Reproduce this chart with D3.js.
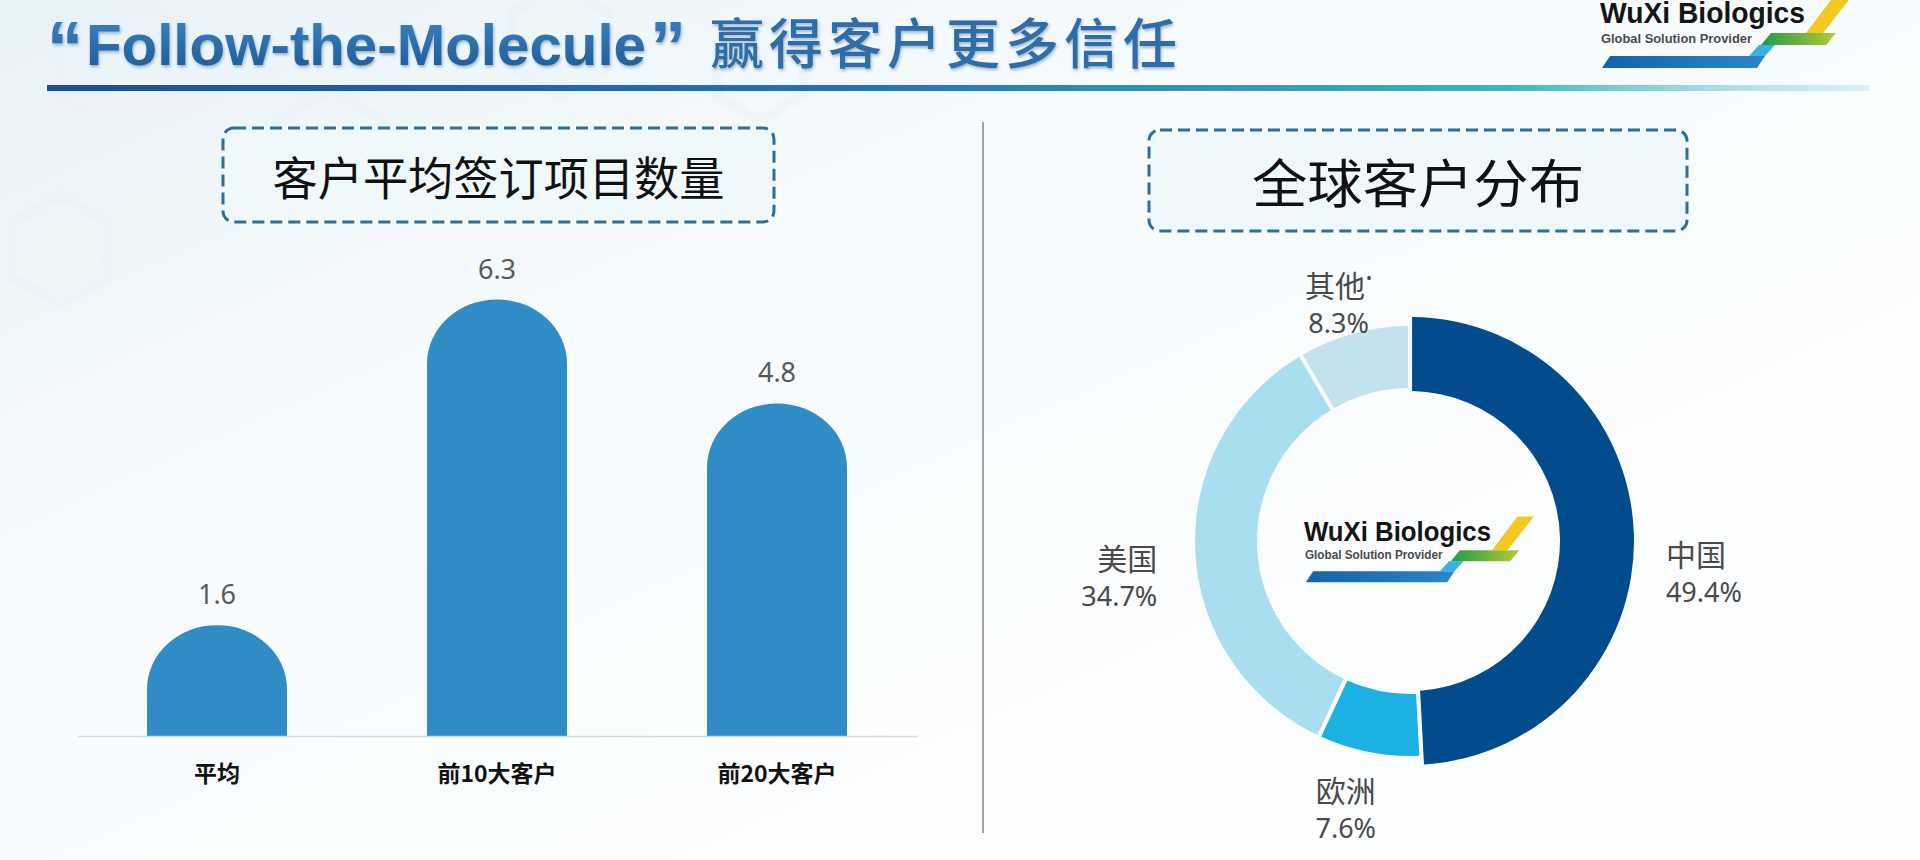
<!DOCTYPE html>
<html>
<head>
<meta charset="utf-8">
<script src="https://cdn.jsdelivr.net/npm/d3@7/dist/d3.min.js"></script>
<style>
  html, body { margin: 0; padding: 0; background: #ffffff; }
  svg { display: block; }
</style>
</head>
<body>
<svg id="chart" width="1920" height="860"></svg>
<script>
// ---------- data ----------
const titleEnglish = "Follow-the-Molecule";
const titleChinese = "赢得客户更多信任";
const leftPanelTitle = "客户平均签订项目数量";
const rightPanelTitle = "全球客户分布";

const categories = ["平均", "前10大客户", "前20大客户"];
const projectCounts = [1.6, 6.3, 4.8];

const regions = ["中国", "欧洲", "美国", "其他"];
const regionShares = [49.4, 7.6, 34.7, 8.3];
const regionColors = ["#024b8c", "#1cb1e2", "#a8def0", "#c4e1ee"];

const logoName = "WuXi Biologics";
const logoTagline = "Global Solution Provider";

// ---------- setup ----------
const svg = d3.select("#chart");
const defs = svg.append("defs");
const CJK = "'Noto Sans CJK SC', 'Noto Sans', sans-serif";
const LAT = "'Liberation Sans', Arial, sans-serif";
const NUM = "'Noto Sans', 'DejaVu Sans', sans-serif";

// background
const bg = defs.append("linearGradient").attr("id", "bgGrad")
  .attr("x1", "0").attr("y1", "0").attr("x2", "1").attr("y2", "1");
bg.append("stop").attr("offset", "0").attr("stop-color", "#e7f2f8");
bg.append("stop").attr("offset", "0.35").attr("stop-color", "#f7fbfd");
bg.append("stop").attr("offset", "1").attr("stop-color", "#ffffff");
svg.append("rect").attr("width", 1920).attr("height", 860).attr("fill", "url(#bgGrad)");

// faint molecule hexagons in background
const hexes = [[120, 60, 70], [330, 150, 60], [560, 40, 55], [760, 70, 50], [60, 250, 55]];
const hexPath = (cx, cy, r) => {
  const pts = d3.range(6).map(i => {
    const a = Math.PI / 3 * i + Math.PI / 6;
    return [cx + r * Math.cos(a), cy + r * Math.sin(a)];
  });
  return "M" + pts.join("L") + "Z";
};
svg.append("g").selectAll("path").data(hexes).join("path")
  .attr("d", d => hexPath(d[0], d[1], d[2]))
  .attr("fill", "none").attr("stroke", "#e6f1f7").attr("stroke-width", 10).attr("opacity", 0.45);

// ---------- title ----------
const tg = defs.append("linearGradient").attr("id", "titleGrad")
  .attr("x1", "0").attr("y1", "0").attr("x2", "0").attr("y2", "1");
tg.append("stop").attr("offset", "0").attr("stop-color", "#3d84c4");
tg.append("stop").attr("offset", "1").attr("stop-color", "#1b5894");

const shadow = defs.append("filter").attr("id", "tshadow")
  .attr("x", "-5%").attr("y", "-20%").attr("width", "110%").attr("height", "150%");
shadow.append("feDropShadow").attr("dx", 1).attr("dy", 2).attr("stdDeviation", 1.5)
  .attr("flood-color", "#0d3a66").attr("flood-opacity", 0.35);

const titleG = svg.append("g").attr("font-family", LAT).attr("font-weight", "bold")
  .attr("font-size", 58).attr("fill", "url(#titleGrad)").attr("filter", "url(#tshadow)");
titleG.append("text").attr("x", 47).attr("y", 72).attr("font-size", 72).text("“");
titleG.append("text").attr("x", 86).attr("y", 65)
  .attr("textLength", 560).attr("lengthAdjust", "spacingAndGlyphs").text(titleEnglish);
titleG.append("text").attr("x", 650).attr("y", 72).attr("font-size", 72).text("”");

svg.append("text").attr("x", 710).attr("y", 64)
  .attr("font-family", CJK).attr("font-weight", 500).attr("font-size", 54)
  .attr("letter-spacing", 5)
  .attr("fill", "#2d6da7").attr("filter", "url(#tshadow)")
  .text(titleChinese);

// underline bar
const ug = defs.append("linearGradient").attr("id", "underGrad")
  .attr("x1", "0").attr("y1", "0").attr("x2", "1").attr("y2", "0");
ug.append("stop").attr("offset", "0").attr("stop-color", "#1b4f98");
ug.append("stop").attr("offset", "0.45").attr("stop-color", "#2474b8");
ug.append("stop").attr("offset", "0.8").attr("stop-color", "#3cb4c6");
ug.append("stop").attr("offset", "1").attr("stop-color", "#8fd6dc").attr("stop-opacity", 0.3);
svg.append("rect").attr("x", 47).attr("y", 85).attr("width", 1822).attr("height", 6)
  .attr("fill", "url(#underGrad)");

// ---------- logo ----------
const blueG = defs.append("linearGradient").attr("id", "logoBlue")
  .attr("x1", "0").attr("y1", "0").attr("x2", "1").attr("y2", "0");
blueG.append("stop").attr("offset", "0").attr("stop-color", "#1462ad");
blueG.append("stop").attr("offset", "1").attr("stop-color", "#2a86c8");
const greenG = defs.append("linearGradient").attr("id", "logoGreen")
  .attr("x1", "0").attr("y1", "0").attr("x2", "1").attr("y2", "0");
greenG.append("stop").attr("offset", "0").attr("stop-color", "#219a4a");
greenG.append("stop").attr("offset", "1").attr("stop-color", "#b4c935");

function drawLogo(x, y, s) {
  const g = svg.append("g").attr("transform", `translate(${x},${y}) scale(${s})`);
  g.append("polygon").attr("points", "2,65 157,65 165,53 10,53").attr("fill", "url(#logoBlue)");
  g.append("polygon").attr("points", "149,53 165,53 175,42 159,42").attr("fill", "#38b2e2");
  g.append("polygon").attr("points", "161,42 226,42 236,30 171,30").attr("fill", "url(#logoGreen)");
  g.append("polygon").attr("points", "206,30 223,30 252,-7 234,-7").attr("fill", "#f1c91f");
  g.append("text").attr("x", 0).attr("y", 20)
    .attr("font-family", LAT).attr("font-weight", "bold").attr("font-size", 30)
    .attr("textLength", 205).attr("lengthAdjust", "spacingAndGlyphs")
    .attr("fill", "#151515").text(logoName);
  g.append("text").attr("x", 1).attr("y", 40)
    .attr("font-family", LAT).attr("font-weight", "bold").attr("font-size", 13)
    .attr("textLength", 151).attr("lengthAdjust", "spacingAndGlyphs")
    .attr("fill", "#4a4a4a").text(logoTagline);
}
drawLogo(1600, 3, 1);

// ---------- panel title boxes ----------
function panelBox(x, y, w, h, label, fs, len) {
  svg.append("rect").attr("x", x).attr("y", y).attr("width", w).attr("height", h)
    .attr("rx", 11).attr("ry", 11)
    .attr("fill", "#eff8fb").attr("stroke", "#2f6e9c").attr("stroke-width", 3)
    .attr("stroke-dasharray", "12 6");
  svg.append("text").attr("x", x + w / 2).attr("y", y + h / 2)
    .attr("text-anchor", "middle").attr("dominant-baseline", "central")
    .attr("font-family", CJK).attr("font-size", fs).attr("fill", "#111")
    .attr("textLength", len).attr("lengthAdjust", "spacingAndGlyphs")
    .text(label);
}
panelBox(223, 128, 551, 94, leftPanelTitle, 46, 452);
panelBox(1149, 130, 538, 101, rightPanelTitle, 52, 332);

// divider
svg.append("line").attr("x1", 983).attr("x2", 983).attr("y1", 122).attr("y2", 833)
  .attr("stroke", "#a3a3a3").attr("stroke-width", 2);

// ---------- bar chart ----------
const x = d3.scaleBand().domain(categories).range([77, 917])
  .paddingInner(0.5).paddingOuter(0.25);
const y = d3.scaleLinear().domain([0, 7]).range([736, 251]);

const bars = categories.map((c, i) => ({ c, v: projectCounts[i] }));
const bw = x.bandwidth();
const rx = bw / 2;
svg.append("g").selectAll("path").data(bars).join("path")
  .attr("d", d => {
    const x0 = x(d.c), x1 = x0 + bw, top = y(d.v), base = y(0);
    const ry = Math.min(64, base - top);
    return `M${x0},${base}V${top + ry}A${rx},${ry} 0 0 1 ${x1},${top + ry}V${base}Z`;
  })
  .attr("fill", "#2f8cc5");

svg.append("g").selectAll("text").data(bars).join("text")
  .attr("x", d => x(d.c) + bw / 2).attr("y", d => y(d.v) - 21)
  .attr("text-anchor", "middle").attr("font-family", NUM).attr("font-size", 27)
  .attr("fill", "#595959").text(d => d3.format(".1f")(d.v));

const xAxis = svg.append("g").attr("transform", `translate(0,${y(0)})`)
  .call(d3.axisBottom(x).tickSize(0).tickSizeOuter(0).tickPadding(30));
xAxis.select(".domain").attr("stroke", "#d9d9d9").attr("stroke-width", 1.5);
xAxis.selectAll("text").attr("font-family", CJK).attr("font-weight", "bold")
  .attr("font-size", 23).attr("fill", "#111");

// ---------- donut ----------
const cx = 1410, cy = 541;
const pie = d3.pie().sort(null).value(d => d.v).padAngle(0.016);
const slices = pie(regions.map((r, i) => ({ r, v: regionShares[i], color: regionColors[i], i })));
const arcMain = d3.arc().innerRadius(150).outerRadius(224).padRadius(260);
const arcOther = d3.arc().innerRadius(153).outerRadius(215).padRadius(260);

const dg = svg.append("g").attr("transform", `translate(${cx},${cy})`);
dg.selectAll("path").data(slices).join("path")
  .attr("d", d => (d.index === 0 ? arcMain : arcOther)(d))
  .attr("fill", d => d.data.color);

// labels: radius along the slice's mid angle, plus small shifts, and text anchor
const labelLayout = [
  { r: 256, dx: 0, dy: 39, anchor: "start" },
  { r: 270, dx: -13, dy: 3, anchor: "middle" },
  { r: 253, dx: 0, dy: 24, anchor: "end" },
  { r: 245, dx: -7, dy: 0, anchor: "middle" }
];
slices.forEach((d, i) => {
  const L = labelLayout[i];
  const a = (d.startAngle + d.endAngle) / 2;
  const px = Math.sin(a) * L.r + L.dx;
  const py = -Math.cos(a) * L.r + L.dy;
  const name = dg.append("text").attr("x", px).attr("y", py - 7.5)
    .attr("text-anchor", L.anchor).attr("font-family", CJK).attr("font-size", 30)
    .attr("fill", "#4a4a4a").text(d.data.r);
  if (d.data.r === "其他") {
    name.append("tspan").attr("font-family", NUM).attr("font-size", 16)
      .attr("dy", -13).attr("dx", 1).text("•");
  }
  dg.append("text").attr("x", px).attr("y", py + 28.5)
    .attr("text-anchor", L.anchor).attr("font-family", NUM).attr("font-size", 27)
    .attr("fill", "#4a4a4a").text(d3.format(".1f")(d.data.v) + "%");
});

// center logo
drawLogo(1304, 523, 0.912);
</script>
</body>
</html>
